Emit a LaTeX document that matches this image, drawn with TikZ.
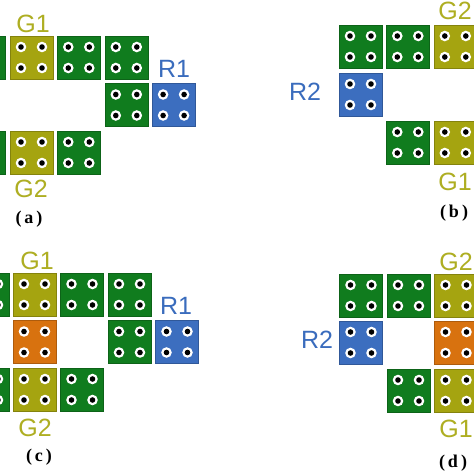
\documentclass[tikz,border=0pt]{standalone}
\usepackage{fontspec}
\setmainfont{Liberation Serif}
\newfontfamily\lblfont{Liberation Sans}
\definecolor{gbox}{HTML}{107C1E}
\definecolor{obox}{HTML}{A5A410}
\definecolor{bbox}{HTML}{3C6EBF}
\definecolor{rbox}{HTML}{D8720F}
\definecolor{glbl}{HTML}{AEAE22}
\definecolor{blbl}{HTML}{3A6CBD}
\tikzset{
  x=1pt, y=-1pt,
  padbox/.style={rectangle, minimum size=43pt, inner sep=0pt, fill=#1, draw=#1!80!black, line width=0.6pt,
    path picture={
      \foreach \dx in {-10.5,10.5}{\foreach \dy in {-10.5,10.5}{
        \fill[white] ([shift={(\dx pt,\dy pt)}]path picture bounding box.center) circle (5.3pt);
        \fill[black] ([shift={(\dx pt,\dy pt)}]path picture bounding box.center) circle (2.8pt);
      }}
    }},
  gp/.style={padbox=gbox},
  op/.style={padbox=obox},
  bp/.style={padbox=bbox},
  rp/.style={padbox=rbox},
  glab/.style={font=\lblfont\fontsize{25}{25}\selectfont, text=glbl, inner sep=0pt},
  blab/.style={font=\lblfont\fontsize{25}{25}\selectfont, text=blbl, inner sep=0pt},
  subcap/.style={font=\bfseries\fontsize{18}{18}\selectfont, inner sep=0pt}
}
\begin{document}
\begin{tikzpicture}
\clip (0,0) rectangle (474,474);
\fill[white] (0,0) rectangle (474,474);
% ---------- (a)
\node[gp] (a10) at (-16.5,57.5) {};
\node[op] (a11) at (31.5,57.5) {};
\node[gp] (a12) at (78.8,57.5) {};
\node[gp] (a13) at (126.3,57.5) {};
\node[gp] (a23) at (126.3,105) {};
\node[bp] (a24) at (173.6,105) {};
\node[gp] (a30) at (-16.5,152.5) {};
\node[op] (a31) at (31.5,152.5) {};
\node[gp] (a32) at (78.8,152.5) {};
\node[glab] (ag1) at (33,24) {G1};
\node[blab] (ar1) at (174,69) {R1};
\node[glab] (ag2) at (31,189) {G2};
\node[subcap] (acap) at (29,219) {(\hspace{3pt}a\hspace{3pt})};
% ---------- (b)
\node[gp] (b11) at (360.5,46.5) {};
\node[gp] (b12) at (407.8,46.5) {};
\node[op] (b13) at (455.3,46.5) {};
\node[bp] (b21) at (360.5,94.5) {};
\node[gp] (b32) at (407.8,142.5) {};
\node[op] (b33) at (455.3,142.5) {};
\node[glab] (bg2) at (455,11) {G2};
\node[blab] (br2) at (305,92) {R2};
\node[glab] (bg1) at (455,182) {G1};
\node[subcap] (bcap) at (454,213) {(\hspace{3pt}b\hspace{3pt})};
% ---------- (c)
\node[gp] (c10) at (-12.5,294.5) {};
\node[op] (c11) at (34.5,294.5) {};
\node[gp] (c12) at (82,294.5) {};
\node[gp] (c13) at (129.5,294.5) {};
\node[rp] (c21) at (34.5,342) {};
\node[gp] (c23) at (129.5,342) {};
\node[bp] (c24) at (177,342) {};
\node[gp] (c30) at (-12.5,389.5) {};
\node[op] (c31) at (34.5,389.5) {};
\node[gp] (c32) at (82,389.5) {};
\node[glab] (cg1) at (37,261) {G1};
\node[blab] (cr1) at (176,306) {R1};
\node[glab] (cg2) at (35,428) {G2};
\node[subcap] (ccap) at (39,457) {(\hspace{3pt}c\hspace{3pt})};
% ---------- (d)
\node[gp] (d11) at (361,295.5) {};
\node[gp] (d12) at (408.5,295.5) {};
\node[op] (d13) at (456,295.5) {};
\node[bp] (d21) at (361,342.5) {};
\node[rp] (d23) at (456,342.5) {};
\node[gp] (d32) at (408.5,390.5) {};
\node[op] (d33) at (456,390.5) {};
\node[glab] (dg2) at (456,262) {G2};
\node[blab] (dr2) at (317,340) {R2};
\node[glab] (dg1) at (456,429) {G1};
\node[subcap] (dcap) at (453,463) {(\hspace{3pt}d\hspace{3pt})};
\end{tikzpicture}
\end{document}
